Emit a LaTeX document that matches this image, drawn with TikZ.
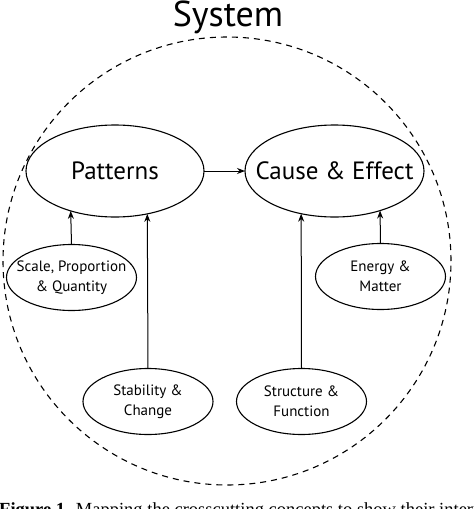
\documentclass[tikz,border=0pt]{standalone}
\usepackage{fontspec}
\setmainfont{PT Sans}
\newfontfamily\capfont{Liberation Serif}
\usetikzlibrary{shapes.geometric,arrows.meta}
\begin{document}
\begin{tikzpicture}[x=1pt,y=-1pt,
  big/.style={ellipse,draw,line width=1.1pt,inner xsep=-40pt,inner ysep=0pt,outer sep=0pt,minimum width=178pt,minimum height=92pt,font=\fontsize{25}{28}\selectfont},
  small/.style={ellipse,draw,line width=1.1pt,inner xsep=-25pt,inner ysep=0pt,outer sep=0pt,minimum width=130pt,minimum height=66pt,align=center,font=\fontsize{15}{20}\selectfont},
  conn/.style={line width=1pt,-{Stealth[length=8pt,width=6pt]}},
  sysline/.style={line width=1.1pt,dash pattern=on 6pt off 5pt}]
\useasboundingbox (0,0) rectangle (474,509);
\node[circle,draw,sysline,minimum size=448pt,inner sep=0pt] (sys) at (227,261) {};
\node[font=\fontsize{36}{40}\selectfont] (systitle) at (228,17) {System};
\node[big] (patterns) at (115,171) {Patterns};
\node[big,minimum width=179pt] (cause) at (334.5,171) {Cause \& Effect};
\node[small] (scale) at (71.5,277.5) {Scale, Proportion\\\& Quantity};
\node[small] (energy) at (380.5,276.5) {Energy \&\\Matter};
\node[small] (stability) at (148,401.5) {Stability \&\\Change};
\node[small] (structure) at (301.5,401.5) {Structure \&\\Function};
\draw[conn] (patterns.east) -- (cause.west);
\draw[conn] (scale.north) -- (patterns.222);
\draw[conn] (stability.north) -- (patterns.307.7);
\draw[conn] (structure.north) -- (cause.232.8);
\draw[conn] (energy.north) -- (cause.319.8);
\node[anchor=base west,inner sep=0pt,font=\capfont\fontsize{18.5}{20}\selectfont] (caption) at (-1,515) {\textbf{Figure 1.} Mapping the crosscutting concepts to show their interrelationships};
\end{tikzpicture}
\end{document}
